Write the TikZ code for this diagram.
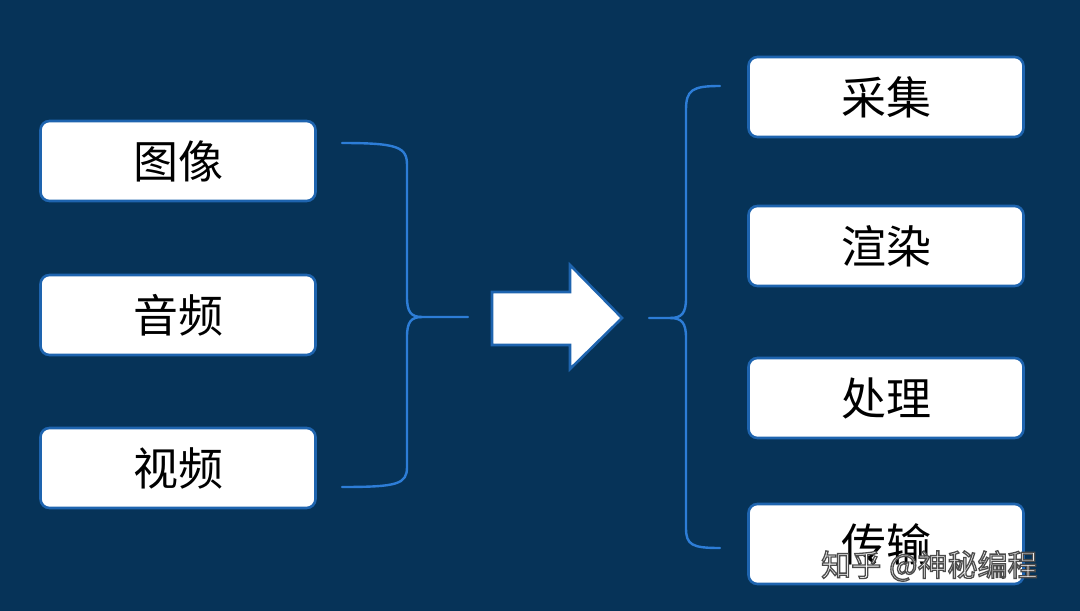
\documentclass[tikz,border=0pt]{standalone}
\usepackage{fontspec}
\newfontfamily\cjk{Noto Sans CJK SC}
\definecolor{bg}{RGB}{6,51,88}
\definecolor{edge}{RGB}{30,100,175}
\definecolor{brace}{RGB}{45,125,215}
\newcommand{\outlinedtext}[1]{\special{pdf:code q 2 Tr 1.3 w 0.3 0.3 0.3 RG}#1\special{pdf:code Q}}
\begin{document}
\begin{tikzpicture}[x=1pt,y=-1pt,
  item/.style={draw=edge,line width=2.6pt,fill=white,rounded corners=9pt,
    minimum width=275pt,minimum height=80pt,inner sep=0pt,
    font=\cjk\fontsize{45}{48}\selectfont,text=black},
  bracepath/.style={draw=brace,line width=2.4pt,line cap=round},
  wmtext/.style={font=\cjk\fontsize{30}{32}\selectfont,text=white,inner sep=0pt}]
\fill[bg] (0,0) rectangle (1080,611);
\useasboundingbox (0,0) rectangle (1080,611);
% left boxes
\node[item] (img) at (178,161) {图像};
\node[item] (aud) at (178,315) {音频};
\node[item] (vid) at (178,468) {视频};
% right boxes
\node[item] (cap) at (886,97) {采集};
\node[item] (ren) at (886,246) {渲染};
\node[item] (pro) at (886,398) {处理};
\node[item] (tra) at (886,544) {传输};
% left brace
\coordinate (lt) at (342,143);
\coordinate (lb) at (342,487);
\coordinate (lc) at (422,317);
\coordinate (lp) at (468,317);
\draw[bracepath] (lt) .. controls (398,143) and (407,147) .. (407,165) -- (407,297)
  .. controls (407,312) and (411,317) .. (lc) -- (lp);
\draw[bracepath] (lc) .. controls (411,317) and (407,322) .. (407,337) -- (407,467)
  .. controls (407,484) and (398,487) .. (lb);
% right brace
\coordinate (rt) at (720,86);
\coordinate (rb) at (720,548);
\coordinate (rc) at (670,318);
\coordinate (rp) at (649,318);
\draw[bracepath] (rt) .. controls (692,86) and (686,90) .. (686,110) -- (686,298)
  .. controls (686,313) and (682,318) .. (rc) -- (rp);
\draw[bracepath] (rc) .. controls (682,318) and (686,323) .. (686,338) -- (686,528)
  .. controls (686,545) and (692,548) .. (rb);
% block arrow
\draw[edge,line width=2.6pt,fill=white,line join=miter]
  (492,292) -- (570,292) -- (570,265) -- (622,318) -- (570,369) -- (570,345) -- (492,345) -- cycle;
% watermark
\node[wmtext,anchor=west] (wm) at (821,566) {\outlinedtext{知乎\hspace{8pt}@神秘编程}};
\end{tikzpicture}
\end{document}
